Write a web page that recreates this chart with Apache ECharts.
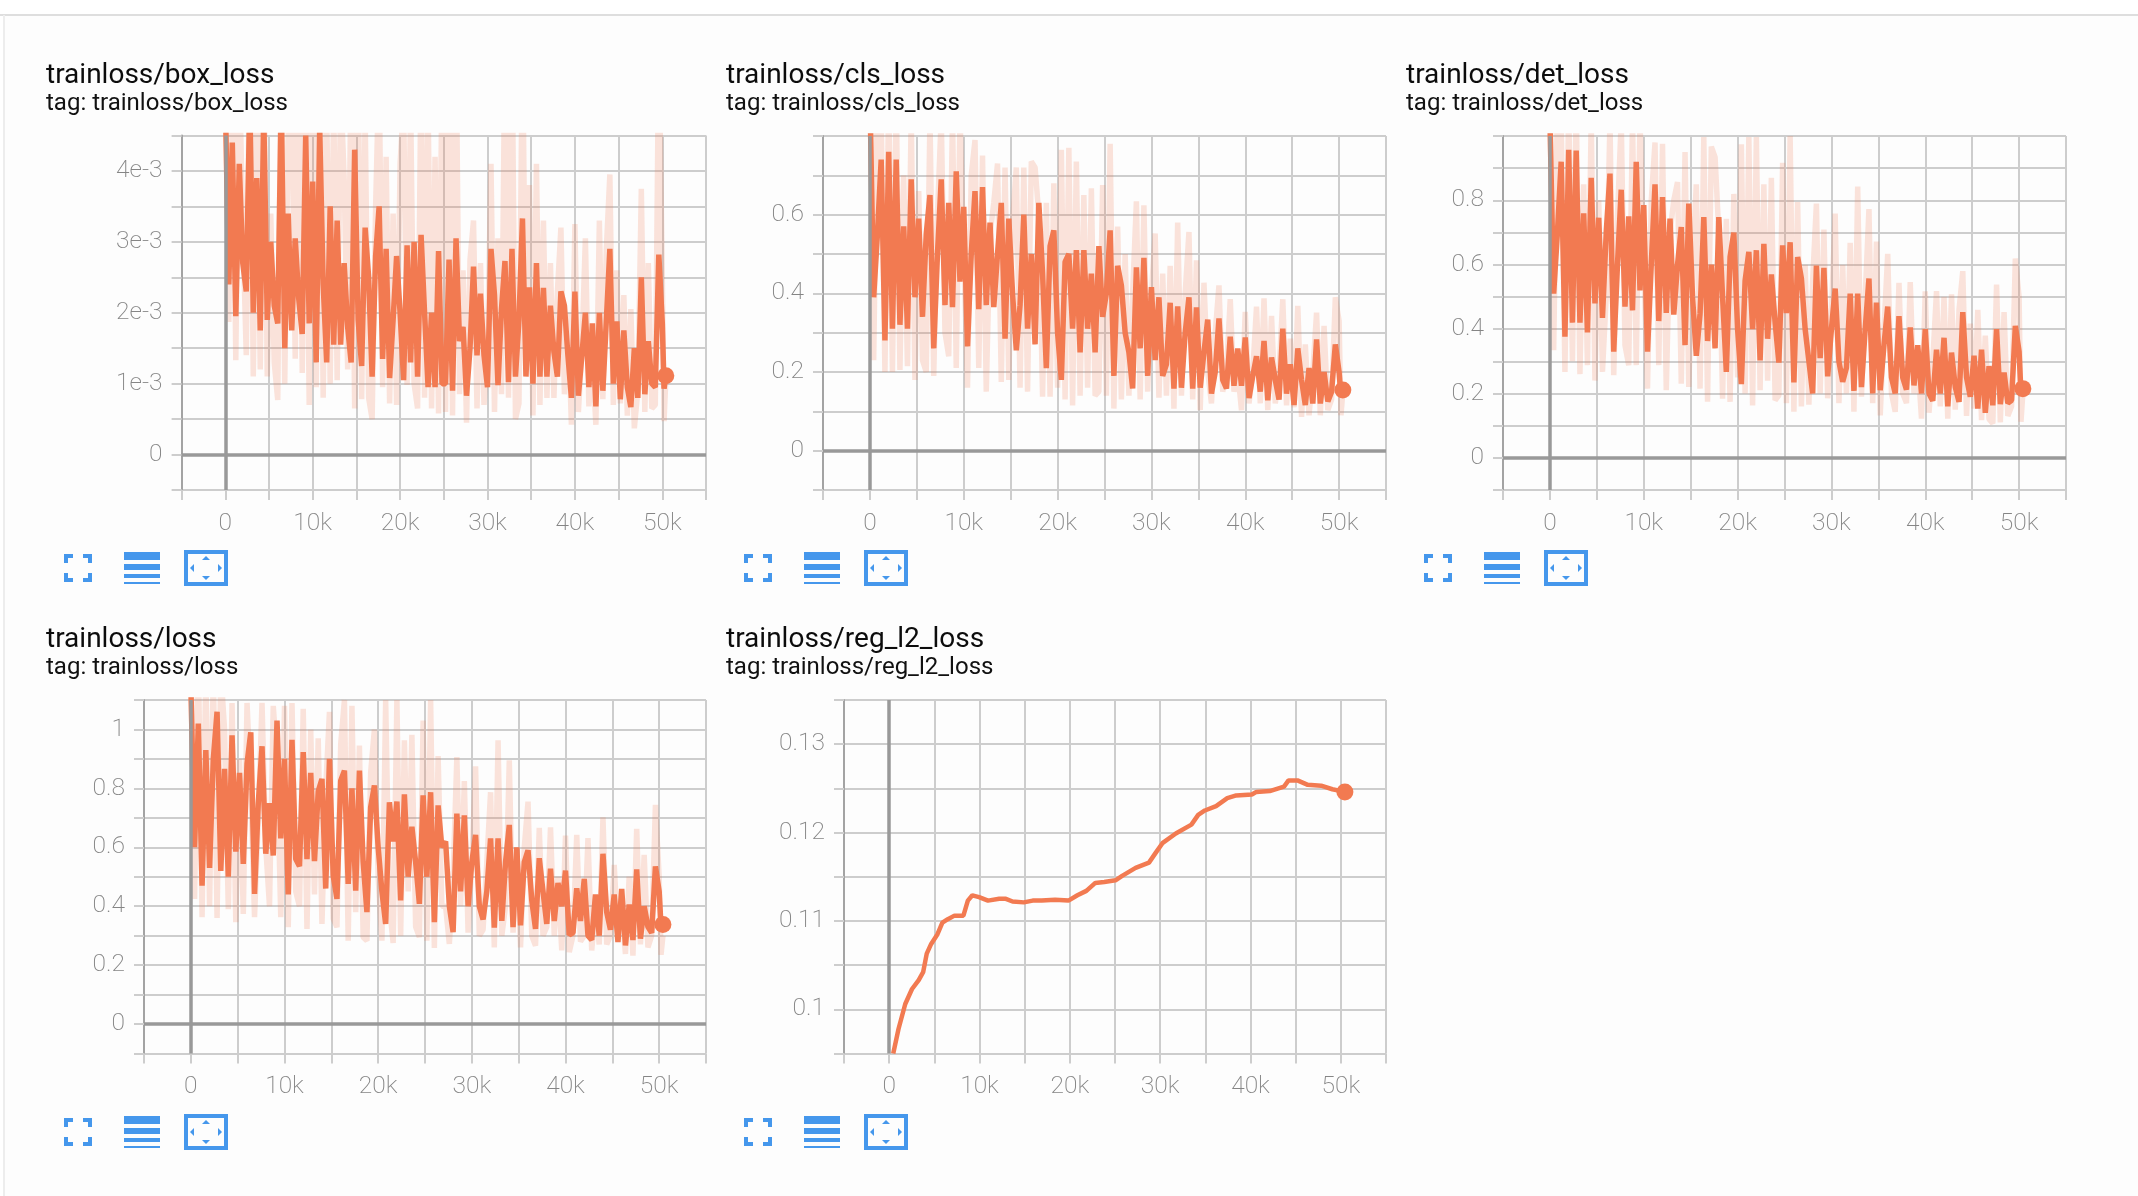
<!DOCTYPE html>
<html>
<head>
<meta charset="utf-8">
<style>html,body{margin:0;padding:0;background:#fff}#main{width:2138px;height:1196px}</style>
<script src="https://cdn.jsdelivr.net/npm/echarts@6/dist/echarts.min.js"></script>
</head>
<body>
<div id="main"></div>
<script>
const steps = [
  0,400,800,1200,1600,2000,2400,2800,3200,3600,
  4000,4400,4800,5200,5600,6000,6400,6800,7200,7600,
  8000,8400,8800,9200,9600,10000,10400,10800,11200,11600,
  12000,12400,12800,13200,13600,14000,14400,14800,15200,15600,
  16000,16400,16800,17200,17600,18000,18400,18800,19200,19600,
  20000,20400,20800,21200,21600,22000,22400,22800,23200,23600,
  24000,24400,24800,25200,25600,26000,26400,26800,27200,27600,
  28000,28400,28800,29200,29600,30000,30400,30800,31200,31600,
  32000,32400,32800,33200,33600,34000,34400,34800,35200,35600,
  36000,36400,36800,37200,37600,38000,38400,38800,39200,39600,
  40000,40400,40800,41200,41600,42000,42400,42800,43200,43600,
  44000,44400,44800,45200,45600,46000,46400,46800,47200,47600,
  48000,48400,48800,49200,49600,50000,50200,50400
];

// box_loss is in units of 1e-3
const boxSmooth = [
  5.0,2.4,4.4,1.95,4.1,2.7,2.3,5.0,2.0,3.9,
  1.75,4.8,1.9,3.0,2.1,1.85,5.0,1.5,3.4,1.75,
  3.05,2.2,1.7,4.5,1.85,3.85,1.3,4.6,2.4,1.3,
  3.5,1.55,3.3,1.55,2.7,1.8,1.3,4.3,1.9,1.25,
  3.2,2.5,1.1,2.8,3.5,1.35,2.9,1.08,1.9,2.8,
  2.0,1.05,2.95,1.3,3.0,1.1,3.1,2.0,0.95,2.0,
  0.95,2.87,1.0,1.0,2.75,0.9,3.05,1.6,1.8,0.83,
  1.5,2.65,1.4,2.27,1.4,0.95,2.9,2.25,0.98,2.05,
  2.73,1.02,2.9,1.1,1.9,3.33,1.1,2.36,1.0,2.7,
  1.1,2.35,1.1,2.1,1.45,1.1,2.3,2.1,1.4,0.8,
  2.3,0.83,1.4,2.0,0.95,1.85,0.68,2.0,0.9,1.9,
  2.9,1.0,1.88,0.78,1.75,0.95,0.67,1.5,0.8,2.5,
  0.85,1.6,1.0,0.95,2.82,1.85,0.93,1.11
];
const boxRaw = [
  6,1.87,6,1.33,5.5,3.2,1.4,6,1.1,5,
  1.2,6,1.1,3.4,1.3,0.77,6,1.0,4.6,5,
  1.35,6,1.15,5.5,0.7,5.5,0.95,6,0.8,4.9,
  1.0,5.0,1.05,5.2,3.9,1.2,5.6,0.65,5.5,0.78,
  4.8,0.8,0.5,3.5,5.5,0.95,4.2,0.72,3.4,0.7,
  4.1,5,0.98,5,1.0,0.65,5.5,0.8,5,0.65,
  4.2,0.58,5.5,0.6,6,0.55,6,0.85,2.6,0.45,
  2.75,3.3,0.65,2.7,0.7,1.5,4.1,0.6,3.05,0.85,
  6,0.8,6,0.5,0.72,6,1.2,3.8,0.55,4.1,
  0.7,3.3,0.8,2.7,0.8,2.3,3.2,0.85,2.0,0.42,
  3.25,0.6,1.5,3.05,0.68,1.4,0.42,3.3,0.78,2.9,
  3.95,0.7,2.6,0.72,2.25,0.55,2.05,0.37,0.9,3.75,
  0.6,2.7,0.65,0.7,6,2.5,0.47,1.05
];
const clsSmooth = [
  0.9,0.39,0.55,0.74,0.28,0.76,0.31,0.74,0.32,0.57,
  0.31,0.69,0.39,0.59,0.34,0.55,0.65,0.26,0.5,0.69,
  0.37,0.63,0.365,0.71,0.43,0.62,0.265,0.5,0.66,0.36,
  0.67,0.37,0.58,0.365,0.5,0.63,0.285,0.59,0.4,0.255,
  0.37,0.6,0.31,0.5,0.27,0.63,0.45,0.21,0.52,0.56,
  0.3,0.18,0.48,0.5,0.31,0.51,0.25,0.51,0.31,0.45,
  0.25,0.52,0.34,0.4,0.56,0.19,0.47,0.42,0.3,0.25,
  0.158,0.466,0.26,0.49,0.19,0.416,0.23,0.39,0.19,0.22,
  0.376,0.158,0.367,0.16,0.3,0.39,0.158,0.364,0.16,0.25,
  0.333,0.145,0.2,0.336,0.18,0.158,0.29,0.165,0.26,0.165,
  0.288,0.134,0.19,0.24,0.15,0.279,0.128,0.237,0.18,0.13,
  0.31,0.145,0.22,0.116,0.26,0.18,0.116,0.21,0.12,0.283,
  0.12,0.2,0.125,0.15,0.27,0.2,0.137,0.154
];
const clsRaw = [
  1.0,0.23,0.9,0.85,0.2,0.9,0.2,0.9,0.205,0.7,
  0.215,0.85,0.18,0.66,0.23,0.2,0.85,0.19,0.6,0.85,
  0.3,0.24,0.85,0.21,0.85,0.5,0.16,0.7,0.79,0.21,
  0.75,0.15,0.55,0.63,0.73,0.175,0.72,0.18,0.58,0.72,
  0.16,0.72,0.15,0.735,0.72,0.6,0.137,0.63,0.137,0.68,
  0.16,0.765,0.13,0.77,0.115,0.735,0.14,0.65,0.16,0.667,
  0.14,0.15,0.675,0.14,0.78,0.107,0.57,0.13,0.5,0.14,
  0.4,0.634,0.13,0.624,0.15,0.4,0.552,0.135,0.45,0.14,
  0.47,0.107,0.58,0.14,0.4,0.556,0.13,0.484,0.103,0.427,
  0.2,0.12,0.3,0.42,0.15,0.2,0.385,0.15,0.2,0.103,
  0.353,0.12,0.2,0.366,0.12,0.387,0.103,0.343,0.12,0.2,
  0.385,0.115,0.285,0.11,0.368,0.086,0.27,0.09,0.2,0.351,
  0.09,0.317,0.103,0.13,0.39,0.33,0.09,0.15
];
const detSmooth = [
  1.05,0.51,0.7,0.92,0.376,0.957,0.42,0.955,0.42,0.76,
  0.39,0.87,0.48,0.746,0.435,0.7,0.883,0.33,0.6,0.833,
  0.47,0.75,0.458,0.92,0.52,0.785,0.33,0.6,0.85,0.425,
  0.81,0.45,0.743,0.445,0.6,0.717,0.35,0.79,0.5,0.317,
  0.448,0.748,0.363,0.6,0.34,0.748,0.5,0.267,0.624,0.7,
  0.4,0.229,0.55,0.64,0.4,0.645,0.303,0.665,0.37,0.57,
  0.42,0.296,0.66,0.45,0.67,0.234,0.624,0.557,0.4,0.3,
  0.2,0.597,0.31,0.59,0.253,0.4,0.526,0.3,0.236,0.28,
  0.51,0.208,0.51,0.22,0.4,0.557,0.2,0.482,0.21,0.35,
  0.47,0.25,0.2,0.44,0.25,0.212,0.405,0.225,0.35,0.2,
  0.4,0.2,0.177,0.336,0.2,0.373,0.16,0.327,0.22,0.174,
  0.453,0.25,0.19,0.317,0.153,0.336,0.14,0.285,0.163,0.4,
  0.167,0.265,0.17,0.179,0.41,0.33,0.2,0.215
];
const detRaw = [
  1.2,0.334,1.1,1.05,0.267,1.1,0.3,1.1,0.26,0.85,
  0.288,1.05,0.24,0.8,0.267,0.5,1.05,0.257,0.75,1.05,
  0.35,0.288,1.05,0.288,1.05,0.6,0.215,0.8,0.98,0.288,
  0.976,0.21,0.7,0.8,0.857,0.23,0.95,0.22,0.6,0.85,
  0.215,0.997,0.174,0.967,0.934,0.7,0.184,0.743,0.174,0.82,
  0.25,0.974,0.2,0.997,0.163,0.997,0.21,0.85,0.24,0.87,
  0.179,0.194,0.917,0.17,1.0,0.143,0.795,0.16,0.6,0.165,
  0.55,0.79,0.2,0.709,0.185,0.45,0.759,0.17,0.6,0.2,
  0.668,0.143,0.843,0.19,0.5,0.773,0.17,0.672,0.132,0.4,
  0.634,0.2,0.143,0.544,0.2,0.17,0.546,0.2,0.3,0.122,
  0.517,0.14,0.3,0.518,0.16,0.5,0.122,0.508,0.15,0.46,
  0.58,0.13,0.417,0.153,0.46,0.117,0.38,0.12,0.107,0.538,
  0.11,0.453,0.13,0.16,0.619,0.5,0.112,0.2
];
const lossSmooth = [
  1.15,0.6,1.02,0.47,0.93,0.53,0.9,1.06,0.52,0.866,
  0.5,0.98,0.585,0.853,0.544,0.884,0.99,0.442,0.75,0.943,
  0.578,0.75,0.572,1.03,0.63,0.9,0.44,0.965,0.56,0.536,
  0.923,0.56,0.853,0.553,0.79,0.832,0.46,0.9,0.504,0.425,
  0.826,0.86,0.476,0.8,0.453,0.86,0.55,0.38,0.736,0.81,
  0.6,0.45,0.34,0.753,0.62,0.755,0.42,0.78,0.5,0.67,
  0.55,0.408,0.776,0.5,0.787,0.346,0.742,0.6,0.62,0.4,
  0.312,0.714,0.45,0.708,0.4,0.55,0.642,0.4,0.355,0.45,
  0.63,0.327,0.63,0.35,0.55,0.676,0.329,0.6,0.335,0.55,
  0.59,0.42,0.323,0.563,0.45,0.34,0.527,0.35,0.479,0.4,
  0.521,0.303,0.31,0.461,0.35,0.493,0.3,0.286,0.44,0.3,
  0.578,0.38,0.32,0.44,0.278,0.459,0.267,0.406,0.285,0.525,
  0.29,0.4,0.33,0.31,0.535,0.45,0.33,0.338
];
const lossRaw = [
  1.3,0.425,1.25,0.363,1.2,0.4,1.2,0.36,1.2,1.0,
  0.39,1.09,0.346,0.9,0.374,1.09,0.8,0.363,0.7,1.09,
  0.6,0.4,1.08,0.9,0.363,1.08,0.329,1.09,0.45,0.4,
  1.07,0.323,1.0,0.44,0.97,0.34,0.8,1.06,0.357,0.329,
  0.95,1.1,0.283,1.08,0.38,0.945,0.295,0.283,0.855,1.0,
  0.5,0.283,1.1,0.4,0.275,1.1,0.3,0.963,0.45,0.982,
  0.33,0.295,1.03,0.283,1.1,0.258,0.91,0.4,0.4,0.272,
  0.5,0.906,0.4,0.825,0.31,0.55,0.875,0.3,0.32,0.55,
  0.787,0.26,0.963,0.3,0.4,0.895,0.31,0.6,0.26,0.6,
  0.755,0.3,0.266,0.666,0.3,0.33,0.668,0.3,0.5,0.25,
  0.64,0.244,0.3,0.642,0.28,0.3,0.631,0.25,0.4,0.27,
  0.702,0.27,0.3,0.54,0.3,0.4,0.238,0.5,0.232,0.663,
  0.27,0.574,0.26,0.3,0.744,0.5,0.235,0.3
];
const regSteps = [
  450,1040,1780,2530,3270,3760,4160,4650,5350,5890,
  6490,7230,8220,8710,9210,9950,10940,12180,12920,13660,
  14900,15890,16880,18370,19850,20840,21830,22820,23810,25050,
  25790,27280,28760,29500,30250,31730,33460,34210,34950,36190,
  37430,38420,40150,40650,42130,43710,44210,45200,46340,47820,
  49060,50450
];
const regSmooth = [
  0.095,0.0978,0.1006,0.1023,0.1033,0.1042,0.1063,0.1074,0.1085,0.1098,
  0.1102,0.1106,0.1106,0.1123,0.1129,0.1127,0.1123,0.1125,0.1125,0.1122,
  0.1121,0.1123,0.1123,0.1124,0.1123,0.1129,0.1134,0.1143,0.1144,0.1146,
  0.1151,0.116,0.1166,0.1177,0.1188,0.1199,0.1209,0.122,0.1225,0.123,
  0.1239,0.1242,0.1243,0.1246,0.1247,0.1252,0.1259,0.1259,0.1254,0.1253,
  0.1249,0.1246
];

const boxTicks = [0,1,2,3,4];
const boxLabels = ['0','1e-3','2e-3','3e-3','4e-3'];
const clsTicks = [0,0.2,0.4,0.6];
const clsLabels = ['0','0.2','0.4','0.6'];
const detTicks = [0,0.2,0.4,0.6,0.8];
const detLabels = ['0','0.2','0.4','0.6','0.8'];
const lossTicks = [0,0.2,0.4,0.6,0.8,1];
const lossLabels = ['0','0.2','0.4','0.6','0.8','1'];
const regTicks = [0.1,0.11,0.12,0.13];
const regLabels = ['0.1','0.11','0.12','0.13'];
const xTicks = [0,10000,20000,30000,40000,50000];
const xLabels = ['0','10k','20k','30k','40k','50k'];

const LINE = '#f27a51', GRID = '#cdcdcd', AXIS = '#a3a3a3', ZERO = '#999999', BLUE = '#4597ec';

function lookup(ticks, labels, eps) {
  return function (v) {
    for (let i = 0; i < ticks.length; i++) if (Math.abs(v - ticks[i]) < eps) return labels[i];
    return '';
  };
}

const option = { animation: false, backgroundColor: '#fff', grid: [], xAxis: [], yAxis: [], series: [], graphic: [] };

function addChart(c) {
  const n = option.grid.length;
  option.grid.push({ left: c.left, top: c.top, width: c.right - c.left, height: c.bottom - c.top, containLabel: false });
  const tick = { show: true, length: 10, lineStyle: { color: GRID, width: 2 } };
  const lab = { color: '#858585', fontFamily: 'Roboto', fontWeight: 200, fontSize: 24.5 };
  option.xAxis.push({
    gridIndex: n, type: 'value', min: -5000, max: 55000, interval: 5000,
    axisLine: { show: false, onZero: false },
    axisTick: tick,
    splitLine: { show: true, lineStyle: { color: GRID, width: 2 } },
    axisLabel: Object.assign({}, lab, { margin: 21, hideOverlap: false, formatter: lookup(xTicks, xLabels, 1) })
  });
  option.yAxis.push({
    gridIndex: n, type: 'value', min: c.min, max: c.max, interval: c.interval,
    axisLine: { show: true, onZero: false, lineStyle: { color: AXIS, width: 2 } },
    axisTick: tick,
    splitLine: { show: true, lineStyle: { color: GRID, width: 2 } },
    axisLabel: Object.assign({}, lab, { margin: 19, padding: [3, 0, 0, 0], hideOverlap: false, formatter: lookup(c.ticks, c.labels, c.interval / 100) })
  });
  const zeros = [{ xAxis: 0 }];
  if (c.min < 0) zeros.push({ yAxis: 0 });
  const xs = c.steps;
  option.series.push({
    type: 'line', xAxisIndex: n, yAxisIndex: n, symbol: 'none', z: 2, silent: true,
    data: c.raw ? xs.map((s, i) => [s, c.raw[i]]) : [],
    lineStyle: { color: LINE, width: 5.5, opacity: 0.2 },
    markLine: { silent: true, symbol: 'none', label: { show: false }, lineStyle: { color: ZERO, width: 3.5, type: 'solid' }, data: zeros }
  });
  option.series.push({
    type: 'line', xAxisIndex: n, yAxisIndex: n, symbol: 'none', z: 3, silent: true,
    data: xs.map((s, i) => [s, c.smooth[i]]),
    lineStyle: { color: LINE, width: c.raw ? 5.5 : 4.5 }
  });
  const last = xs.length - 1;
  option.series.push({
    type: 'scatter', xAxisIndex: n, yAxisIndex: n, z: 4, silent: true, symbolSize: 17,
    data: [[xs[last], c.smooth[last]]], itemStyle: { color: LINE, opacity: 1 }
  });
  // title and tag
  option.graphic.push(
    { type: 'text', left: c.tx, top: c.ty, z: 10, style: { text: c.name, font: '400 28px Roboto', fill: '#0c0c0c' } },
    { type: 'text', left: c.tx, top: c.ty + 30, z: 10, style: { text: 'tag: ' + c.name, font: '400 24px Roboto', fill: '#111' } }
  );
  addIcons(c.tx, c.ty);
}

function addIcons(tx, ty) {
  // offsets measured from the title's left edge and top
  const ox = tx - 46, oy = ty - 62;
  const s = { fill: BLUE };
  const r = (x, y, w, h) => ({ type: 'rect', z: 10, silent: true, shape: { x: x + ox, y: y + oy, width: w, height: h }, style: s });
  const p = (pts) => ({ type: 'polygon', z: 10, silent: true, shape: { points: pts.map(q => [q[0] + ox, q[1] + oy]) }, style: s });
  option.graphic.push(
    // fullscreen brackets
    r(64, 554, 9, 4), r(64, 554, 4, 9), r(83, 554, 9, 4), r(88, 554, 4, 9),
    r(64, 578, 9, 4), r(64, 573, 4, 9), r(83, 578, 9, 4), r(88, 573, 4, 9),
    // list bars
    r(124, 552, 36, 8), r(124, 564, 36, 6), r(124, 574, 36, 4), r(124, 582, 36, 2),
    // fit frame
    r(184, 550, 44, 4), r(184, 582, 44, 4), r(184, 550, 4, 36), r(224, 550, 4, 36),
    p([[206, 556], [210, 560], [202, 560]]),
    p([[206, 580], [210, 576], [202, 576]]),
    p([[190, 568], [194, 564], [194, 572]]),
    p([[222, 568], [218, 564], [218, 572]])
  );
}

// page chrome behind everything
option.graphic.push(
  { type: 'rect', z: 0, silent: true, shape: { x: 4, y: 15, width: 2134, height: 1181 }, style: { fill: '#fdfdfd' } },
  { type: 'rect', z: 0, silent: true, shape: { x: 0, y: 14, width: 2138, height: 2 }, style: { fill: '#dedede' } },
  { type: 'rect', z: 0, silent: true, shape: { x: 3, y: 15, width: 2, height: 1181 }, style: { fill: '#ededed' } }
);

addChart({ name: 'trainloss/box_loss', tx: 46, ty: 62, left: 181.6, right: 706, top: 135.5, bottom: 490, min: -0.5, max: 4.5, interval: 0.5, ticks: boxTicks, labels: boxLabels, steps: steps, smooth: boxSmooth, raw: boxRaw });
addChart({ name: 'trainloss/cls_loss', tx: 726, ty: 62, left: 823, right: 1386, top: 136, bottom: 490, min: -0.1, max: 0.8, interval: 0.1, ticks: clsTicks, labels: clsLabels, steps: steps, smooth: clsSmooth, raw: clsRaw });
addChart({ name: 'trainloss/det_loss', tx: 1406, ty: 62, left: 1503, right: 2066, top: 136, bottom: 490, min: -0.1, max: 1, interval: 0.1, ticks: detTicks, labels: detLabels, steps: steps, smooth: detSmooth, raw: detRaw });
addChart({ name: 'trainloss/loss', tx: 46, ty: 626, left: 144, right: 706, top: 700, bottom: 1053.5, min: -0.1, max: 1.1, interval: 0.1, ticks: lossTicks, labels: lossLabels, steps: steps, smooth: lossSmooth, raw: lossRaw });
addChart({ name: 'trainloss/reg_l2_loss', tx: 726, ty: 626, left: 844, right: 1386, top: 700, bottom: 1053.5, min: 0.095, max: 0.135, interval: 0.005, ticks: regTicks, labels: regLabels, steps: regSteps, smooth: regSmooth, raw: null });

const chart = echarts.init(document.getElementById('main'), null, { renderer: 'canvas', width: 2138, height: 1196 });
chart.setOption(option);
</script>
</body>
</html>
